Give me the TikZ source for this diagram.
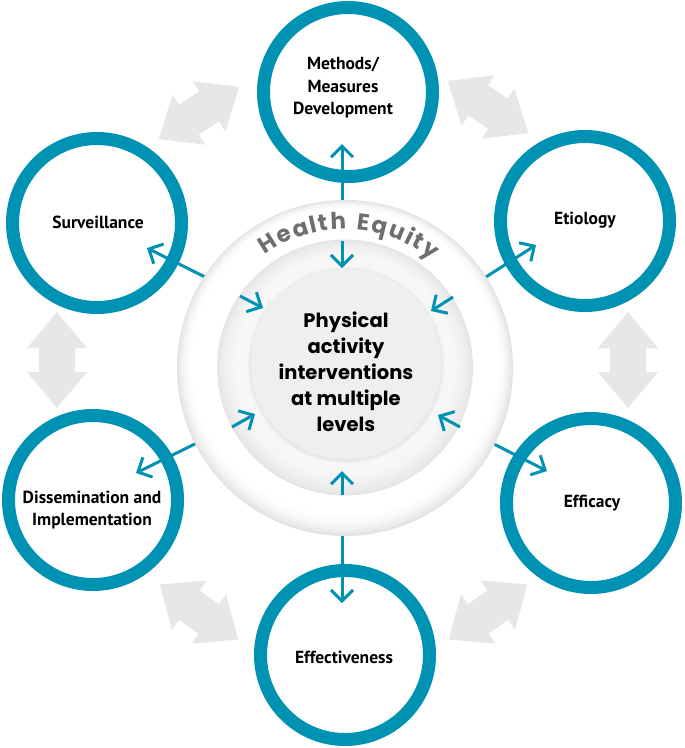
\documentclass[tikz,border=0pt]{standalone}
\usepackage{fontspec}
\setmainfont{PT Sans}
\newfontfamily\cfont{Poppins}
\usetikzlibrary{arrows.meta}
\definecolor{teal1}{RGB}{0,146,178}
\definecolor{garr}{RGB}{230,231,232}
\definecolor{hegray}{RGB}{109,110,113}
\definecolor{diskc}{RGB}{238,240,240}
\begin{document}
\begin{tikzpicture}[x=1pt,y=-1pt,
  ringnode/.style={circle, draw=teal1, line width=13pt, fill=white, minimum size=169pt, inner sep=0pt},
  lab/.style={font=\bfseries\fontsize{17.5}{22.5}\selectfont, align=center, text=black},
  conn/.style={draw=teal1, line width=3pt, -{Straight Barb[length=11pt,width=22pt]}},
  garrow/.style={fill=garr},
  heletter/.style={font=\cfont\bfseries\fontsize{23}{23}\selectfont, text=hegray, anchor=base, inner sep=0pt}
]
\useasboundingbox (0,0) rectangle (685,748);
\fill[white] (0,0) rectangle (685,748);

% gray double arrows
\foreach \cx/\cy/\ang in {199/113/33, 488/107/-33, 57/360/90, 628/360/90, 199/612/-35, 488/612/35}{
  \fill[garrow, shift={(\cx,\cy)}, rotate=\ang]
    (48,0) -- (12,30) -- (12,18) -- (-12,18) -- (-12,30) -- (-48,0)
    -- (-12,-30) -- (-12,-18) -- (12,-18) -- (12,-30) -- cycle;
}

% outer circles
\node[ringnode] (meth) at (348,92) {};
\node[ringnode] (surv) at (97,223) {};
\node[ringnode] (etio) at (585,221) {};
\node[ringnode] (diss) at (93,500) {};
\node[ringnode] (effi) at (591,503) {};
\node[ringnode] (effe) at (345,655) {};

% connector end points
\coordinate (mT) at (342,144);  \coordinate (mS) at (342,215);
\coordinate (bT) at (342,603);  \coordinate (bS) at (342,520);
\coordinate (sT) at (147,248);  \coordinate (sS) at (215,282);
\coordinate (eT) at (536,245);  \coordinate (eS) at (478,282);
\coordinate (dT) at (136,473);  \coordinate (dS) at (205,439);
\coordinate (fT) at (547,471);  \coordinate (fS) at (488,441);

\draw[conn] (mS) -- (mT);
\draw[conn] (bS) -- (bT);
\draw[conn] (sS) -- (sT);
\draw[conn] (eS) -- (eT);
\draw[conn] (dS) -- (dT);
\draw[conn] (fS) -- (fT);

% outer disc with inner glow
\foreach \i in {0,...,16}{
  \pgfmathsetmacro\pc{11*((16-\i)/16)^2}
  \fill[black!\pc!white] (345,{368-0.4*\i}) circle ({168-\i});
}
% inner band
\foreach \i in {0,...,24}{
  \pgfmathsetmacro\pc{3+7*((24-\i)/24)^2}
  \fill[black!\pc!white] (345,{367.5-0.15*\i}) circle ({128-\i});
}
\foreach \i in {0,...,4}{
  \pgfmathsetmacro\pc{3+1.5*\i}
  \fill[black!\pc!white] (346,365) circle ({100-\i});
}
\node[circle, fill=diskc, minimum size=190pt, inner sep=0pt] (core) at (346,364) {};

% inner arrows
\coordinate (imS) at (342,241); \coordinate (imT) at (342,268);
\coordinate (ibS) at (342,495); \coordinate (ibT) at (342,471);
\coordinate (isS) at (240,296); \coordinate (isT) at (263,308);
\coordinate (ieS) at (453,297); \coordinate (ieT) at (431,311);
\coordinate (idS) at (232,427); \coordinate (idT) at (255,414);
\coordinate (ifS) at (460,427); \coordinate (ifT) at (438,415);
\draw[conn] (imS) -- (imT);
\draw[conn] (ibS) -- (ibT);
\draw[conn] (isS) -- (isT);
\draw[conn] (ieS) -- (ieT);
\draw[conn] (idS) -- (idT);
\draw[conn] (ifS) -- (ifT);

% Health Equity, letter by letter along an arc
\coordinate (C) at (345,366);
\foreach \ch/\off [count=\k] in {H/-32.37, e/-25.0, a/-18.03, l/-12.66, t/-8.65, h/-2.71,
    E/7.25, q/14.02, u/21.31, i/26.65, t/30.67, y/36.18}{
  \node[heletter, rotate=-\off] (he\k) at ([shift={({\off-90}:137)}]C) {\ch};
}

% labels
\node[font=\cfont\bfseries\fontsize{19.5}{26}\selectfont, align=center] (ctext) at (346,372)
  {Physical\\activity\\interventions\\at multiple\\levels};
\node[lab] (lmeth) at (343,88) {Methods/\\Measures\\Development};
\node[lab] (lsurv) at (98,222) {Surveillance};
\node[lab] (letio) at (585,220) {Etiology};
\node[lab] (ldiss) at (92,510) {Dissemination and\\Implementation};
\node[lab] (leffi) at (592,503) {Efficacy};
\node[lab] (leffe) at (344,657) {Effectiveness};
\end{tikzpicture}
\end{document}
